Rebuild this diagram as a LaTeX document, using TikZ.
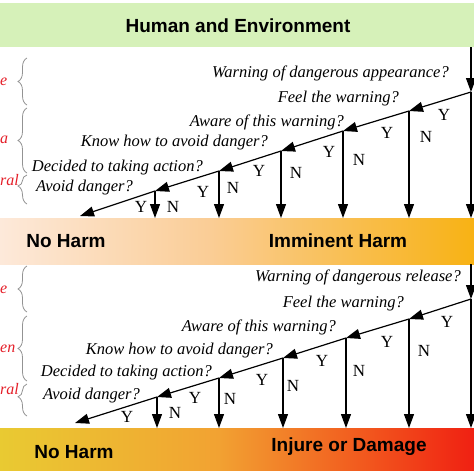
\documentclass[tikz,border=0pt]{standalone}
\usepackage{fontspec}
\setmainfont{Liberation Serif}
\newfontfamily\bandfont{Liberation Sans}
\usetikzlibrary{arrows.meta,decorations.pathreplacing}
\definecolor{topgreen}{RGB}{214,241,185}
\definecolor{peach}{RGB}{253,233,218}
\definecolor{peachmid}{RGB}{250,205,150}
\definecolor{amber}{RGB}{248,178,20}
\definecolor{goldy}{RGB}{233,202,50}
\definecolor{orng}{RGB}{242,162,50}
\definecolor{redorng}{RGB}{242,90,30}
\definecolor{hotred}{RGB}{240,32,18}
\definecolor{redlab}{RGB}{228,30,40}
\pgfdeclarehorizontalshading{bandB}{100bp}{color(0bp)=(peach); color(25bp)=(peach); color(47bp)=(peachmid); color(75bp)=(amber); color(100bp)=(amber)}
\pgfdeclarehorizontalshading{bandC}{100bp}{color(0bp)=(goldy); color(25bp)=(goldy); color(48bp)=(orng); color(63bp)=(redorng); color(75bp)=(hotred); color(100bp)=(hotred)}
\tikzset{
  flow/.style={line width=1.2pt,-{Triangle[length=14pt,width=10pt]}},
  quest/.style={font=\itshape\fontsize{16.5}{18}\selectfont,anchor=east,inner sep=0pt},
  yn/.style={font=\fontsize{17}{19}\selectfont,inner sep=0pt},
  bandtext/.style={font=\bandfont\bfseries\fontsize{19}{21}\selectfont,inner sep=0pt},
  redtext/.style={font=\itshape\fontsize{16}{18}\selectfont,text=redlab,anchor=west,inner sep=0pt},
  bracket/.style={draw=gray!85,line width=0.8pt,decorate,decoration={brace,amplitude=9pt}}
}
\begin{document}
\begin{tikzpicture}[x=1pt,y=-1pt]
\useasboundingbox (0,0) rectangle (474,474);
% bands
\fill[topgreen] (0,3) rectangle (474,47);
\shade[shading=bandB] (0,218) rectangle (474,264);
\shade[shading=bandC] (0,428) rectangle (474,470);
\node[bandtext] (title) at (238,26) {Human and Environment};
\node[bandtext] (noharmA) at (66,241) {No Harm};
\node[bandtext] (imminent) at (338,241) {Imminent Harm};
\node[bandtext] (noharmB) at (74,452) {No Harm};
\node[bandtext] (injure) at (349,447) {Injure or Damage};

% ---------- top panel ----------
\coordinate (a0) at (80,216);
\coordinate (a1) at (155,191);
\coordinate (a2) at (219,171);
\coordinate (a3) at (281,151);
\coordinate (a4) at (343,131);
\coordinate (a5) at (409,111);
\coordinate (a6) at (471,92);
\coordinate (t6) at (471,47);
\draw[flow] (t6) -- (a6);
\draw[flow] (a6) -- (a5);
\draw[flow] (a5) -- (a4);
\draw[flow] (a4) -- (a3);
\draw[flow] (a3) -- (a2);
\draw[flow] (a2) -- (a1);
\draw[flow] (a1) -- (a0);
\coordinate (d1) at (155,218);
\coordinate (d2) at (219,218);
\coordinate (d3) at (281,218);
\coordinate (d4) at (343,218);
\coordinate (d5) at (409,218);
\coordinate (d6) at (471,218);
\foreach \k in {1,...,6}{\draw[flow] (a\k) -- (d\k);}

\node[quest] (q1) at (449,73) {Warning of dangerous appearance?};
\node[quest] (q2) at (399,99) {Feel the warning?};
\node[quest] (q3) at (344,122) {Aware of this warning?};
\node[quest] (q4) at (268,143) {Know how to avoid danger?};
\node[quest] (q5) at (203,168) {Decided to taking action?};
\node[quest] (q6) at (133,188) {Avoid danger?};

\foreach \x/\y [count=\i] in {444/115,387/133,329/152,259/171,203/192,141/207}
  {\node[yn] (ya\i) at (\x,\y) {Y};}
\foreach \x/\y [count=\i] in {426/137,359/160,296/173,233/188,173/207}
  {\node[yn] (na\i) at (\x,\y) {N};}

\draw[bracket] (27,105) -- (27,58);
\draw[bracket] (27,173) -- (27,108);
\draw[bracket,decoration={aspect=0.62}] (27,204) -- (27,175);
\node[redtext] (ra1) at (0,82) {e};
\node[redtext] (ra2) at (0,140) {a};
\node[redtext] (ra3) at (0,180) {ral};

% ---------- bottom panel ----------
\coordinate (c0) at (75,423);
\coordinate (c1) at (157,397);
\coordinate (c2) at (219,378);
\coordinate (c3) at (283,358);
\coordinate (c4) at (346,338);
\coordinate (c5) at (409,319);
\coordinate (c6) at (471,299);
\coordinate (u6) at (471,264);
\draw[flow] (u6) -- (c6);
\draw[flow] (c6) -- (c5);
\draw[flow] (c5) -- (c4);
\draw[flow] (c4) -- (c3);
\draw[flow] (c3) -- (c2);
\draw[flow] (c2) -- (c1);
\draw[flow] (c1) -- (c0);
\coordinate (e1) at (157,428);
\coordinate (e2) at (219,428);
\coordinate (e3) at (283,428);
\coordinate (e4) at (346,428);
\coordinate (e5) at (409,428);
\coordinate (e6) at (471,428);
\foreach \k in {1,...,6}{\draw[flow] (c\k) -- (e\k);}

\node[quest] (p1) at (461,277) {Warning of dangerous release?};
\node[quest] (p2) at (404,304) {Feel the warning?};
\node[quest] (p3) at (336,327) {Aware of this warning?};
\node[quest] (p4) at (273,351) {Know how to avoid danger?};
\node[quest] (p5) at (212,373) {Decided to taking action?};
\node[quest] (p6) at (140,396) {Avoid danger?};

\foreach \x/\y [count=\i] in {447/322,387/342,322/361,262/380,195/398,127/417}
  {\node[yn] (yb\i) at (\x,\y) {Y};}
\foreach \x/\y [count=\i] in {424/351,359/371,293/386,230/399,175/413}
  {\node[yn] (nb\i) at (\x,\y) {N};}

\draw[bracket] (27,312) -- (27,266);
\draw[bracket] (27,381) -- (27,316);
\draw[bracket,decoration={aspect=0.6}] (27,416) -- (27,384);
\node[redtext] (rb1) at (0,290) {e};
\node[redtext] (rb2) at (0,349) {en};
\node[redtext] (rb3) at (0,389) {ral};
\end{tikzpicture}
\end{document}
